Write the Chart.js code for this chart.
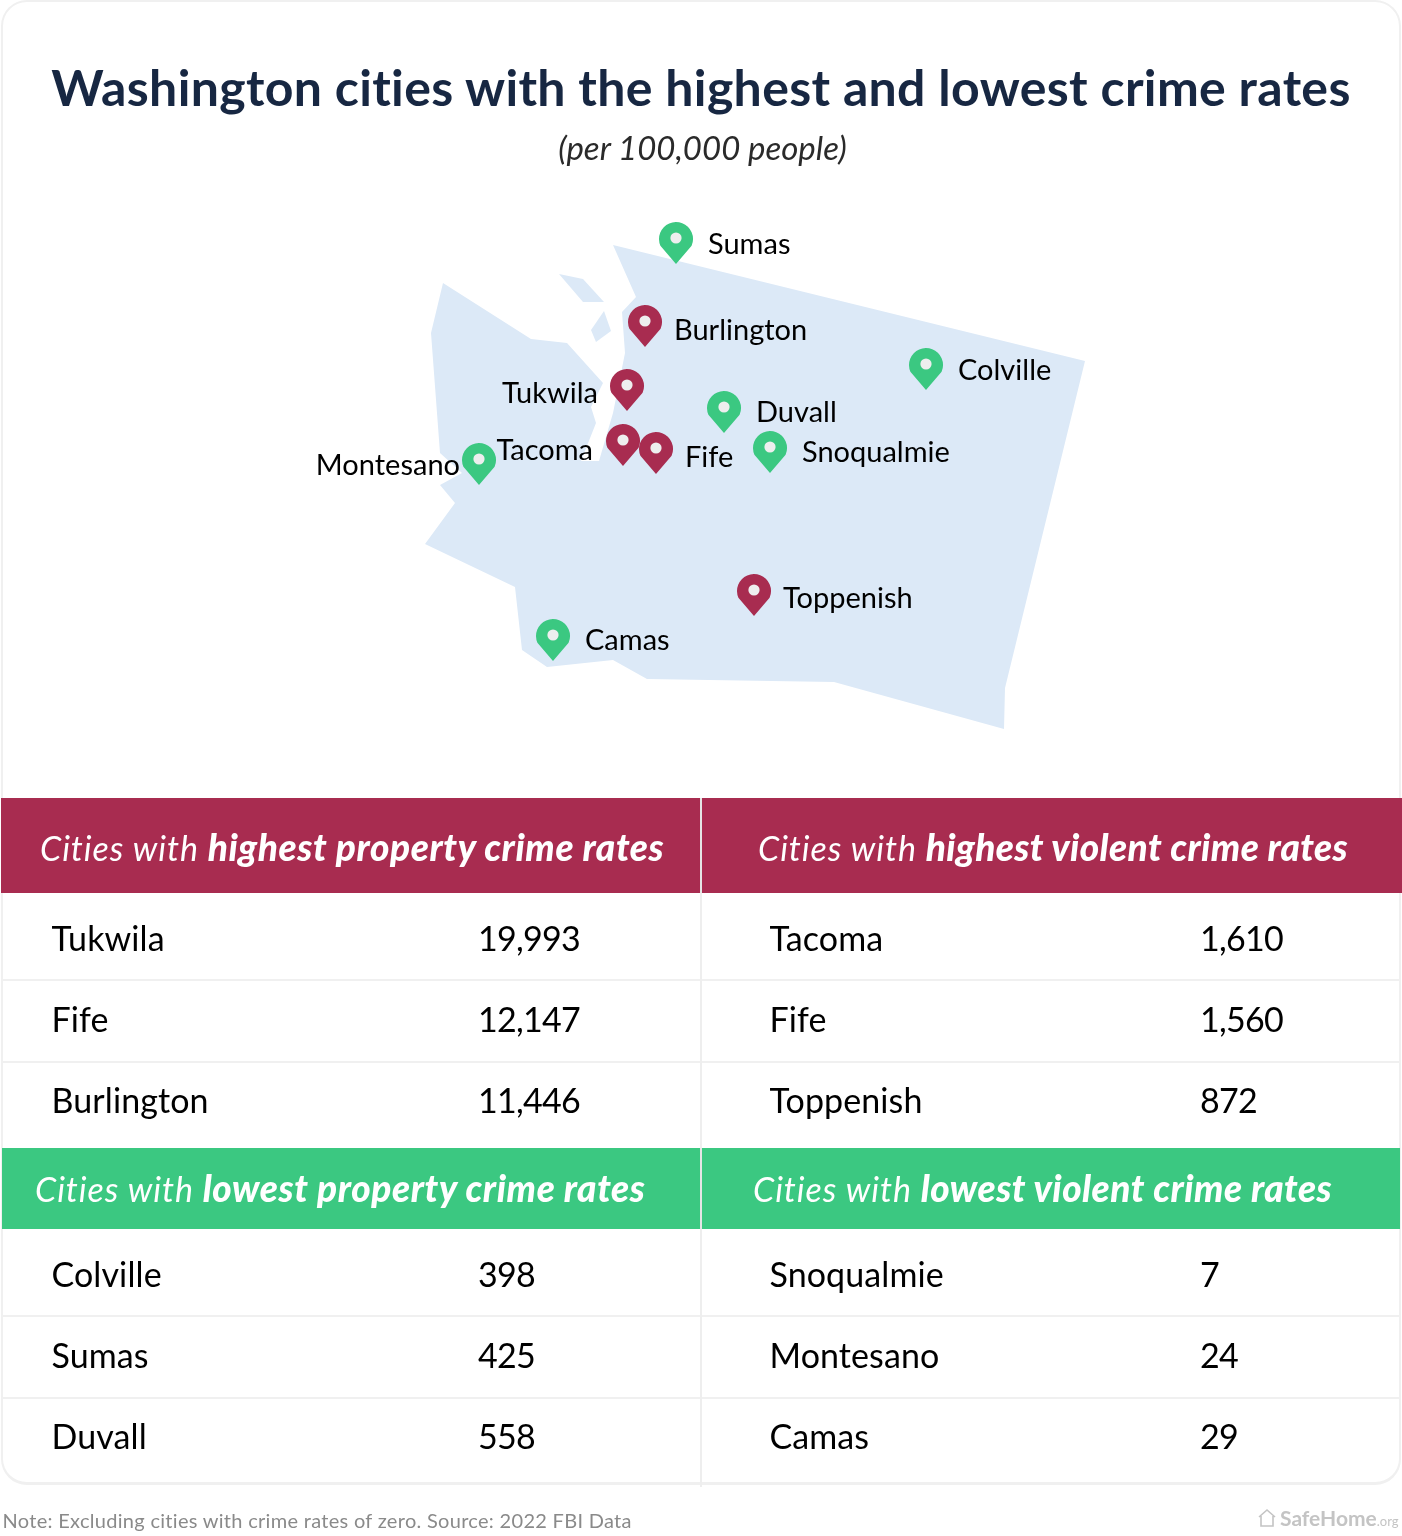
<!DOCTYPE html>
<html><head><meta charset="utf-8">
<script src="https://cdn.jsdelivr.net/npm/chart.js@4"></script>
<style>
html,body{margin:0;padding:0;background:#fff;}
#page{position:relative;width:1402px;height:1536px;overflow:hidden;font-family:Lato,sans-serif;color:#000;}
#page div.t{position:absolute;white-space:nowrap;line-height:1;}
.box{position:absolute;}
canvas{position:absolute;left:0;top:0;}
</style></head><body>
<div id="page"><canvas id="c" width="1402" height="1536"></canvas></div>
<script>
const title = "Washington cities with the highest and lowest crime rates";
const subtitle = "(per 100,000 people)";
const note = "Note: Excluding cities with crime rates of zero. Source: 2022 FBI Data";

const highPropertyCities = ["Tukwila","Fife","Burlington"];
const highPropertyRates  = ["19,993","12,147","11,446"];
const highViolentCities  = ["Tacoma","Fife","Toppenish"];
const highViolentRates   = ["1,610","1,560","872"];
const lowPropertyCities  = ["Colville","Sumas","Duvall"];
const lowPropertyRates   = ["398","425","558"];
const lowViolentCities   = ["Snoqualmie","Montesano","Camas"];
const lowViolentRates    = ["7","24","29"];

// map outline, in the chart's own units
const mainlandX = [613,1085,1005,1004,834,647,613,547,522,515,425,455,440,462,440,431,443,531,567,603,591,596,581,599,613,625,622,636,613];
const mainlandY = [245,361,688,729,682,679,660,667,650,587,544,503,485,473,453,333,283,339,343,383,407,423,461,461,413,353,312,297,245];
const islandAX = [559,583,604,583,559];
const islandAY = [274,279,302,302,274];
const islandBX = [604,611,596,591,604];
const islandBY = [311,331,342,330,311];

// pin tips
const redCities = ["Burlington","Tukwila","Tacoma","Fife","Toppenish"];
const redX = [645,627,623,656,754];
const redY = [347,411,466,474,616];
const greenCities = ["Sumas","Colville","Duvall","Snoqualmie","Montesano","Camas"];
const greenX = [676,926,724,770,479,553];
const greenY = [264,390,433,473,485,661];

const RED = "#a82c50", GREEN = "#3bc881", BLUE = "#dce9f7";

// label placement per city: [dx from pin tip, dy from pin tip, align]
const labelOffsets = {
  Sumas:[32,-19,"left"],Burlington:[29,-16,"left"],Colville:[32,-19,"left"],Duvall:[32,-20,"left"],
  Snoqualmie:[32,-20,"left"],Toppenish:[29,-17,"left"],Camas:[32,-20,"left"],Fife:[29,-16,"left"],
  Tukwila:[-29,-17,"right"],Tacoma:[-30,-15,"right"],Montesano:[-19,-19,"right"]
};

const page = document.getElementById("page");
function box(x,y,w,h,css){const d=document.createElement("div");d.className="box";
  d.style.cssText=`left:${x}px;top:${y}px;width:${w}px;height:${h}px;`+(css||"");page.appendChild(d);return d;}
function text(str,x,cy,size,css,html){const d=document.createElement("div");d.className="t";
  d.style.cssText=`left:${x}px;top:${cy-size/2}px;font-size:${size}px;`+(css||"");
  if(html)d.innerHTML=str;else d.textContent=str;page.appendChild(d);return d;}

// card outline
box(1,0,1400,1485,"border:2px solid #f0f0f0;border-radius:26px;box-sizing:border-box;border-width:2px 2px 3px 2px;");

// title block
text(title,0,87,50,"width:1402px;text-align:center;font-weight:700;color:#172742;letter-spacing:0.33px;");
text(subtitle,0,147,33,"width:1405px;text-align:center;font-style:italic;color:#2a2a2a;");

// table bands
box(1,798,1401,95,`background:${RED};`);
box(2,1148,1398,81,`background:${GREEN};`);
// separators
[979,1061,1315,1397].forEach(y=>box(3,y,1396,2,"background:#f0f0f0;"));
box(700,893,1.5,255,"background:#eeeeee;");
box(700,1229,1.5,258,"background:#eeeeee;");
box(700,798,2,95,"background:#e5e5e5;");
box(700,1148,2,81,"background:#e5e5e5;");

function header(x,cy,word1,word2,ls){
  text(`Cities with <b style="font-weight:900;font-size:37px;letter-spacing:${ls}px">${word1} ${word2} crime rates</b>`,x,cy,34,`color:#fff;font-style:italic;letter-spacing:0.9px;`,true);
}
header(40,845,"highest","property",0.6);
header(758,845,"highest","violent",0.4);
header(35,1186,"lowest","property",0.6);
header(753,1186,"lowest","violent",0.5);

function rows(cities,rates,xName,xRate,ys){
  cities.forEach((c,i)=>{
    text(c,xName,ys[i],34,"letter-spacing:0.1px;");
    text(rates[i],xRate,ys[i],34,"letter-spacing:-0.7px;");
  });
}
const upper=[938,1019,1100], lower=[1274,1355,1436];
rows(highPropertyCities,highPropertyRates,51.5,478,upper);
rows(highViolentCities,highViolentRates,769.5,1200,upper);
rows(lowPropertyCities,lowPropertyRates,51.5,478,lower);
rows(lowViolentCities,lowViolentRates,769.5,1200,lower);

// footer
text(note,2.5,1520,20,"color:#8a8a8a;letter-spacing:0.3px;");
text('SafeHome<span style="font-size:13px;font-weight:400">.org</span>',1280,1517,21,"color:#c4c4c4;font-weight:700;",true);
const logo=document.createElementNS("http://www.w3.org/2000/svg","svg");
logo.setAttribute("width","20");logo.setAttribute("height","20");logo.setAttribute("viewBox","0 0 20 20");
logo.style.cssText="position:absolute;left:1257px;top:1508px;";
logo.innerHTML='<path d="M2 9 L10 2 L18 9 M4 8 V18 H16 V8" fill="none" stroke="#c4c4c4" stroke-width="1.6"/>';
page.appendChild(logo);

function pinImage(color){
  // canvas is centred on the data point, so the pin's tip sits in its middle
  const w=36,h=88,c=document.createElement("canvas");c.width=w;c.height=h;
  const g=c.getContext("2d"),cx=w/2,tip=h/2,r=17,cy=tip-25;
  g.fillStyle=color;g.beginPath();
  g.arc(cx,cy,r,Math.PI*0.87,Math.PI*2.13,false);
  g.lineTo(cx,tip);
  g.closePath();g.fill();
  g.fillStyle="#eeeeee";g.beginPath();g.arc(cx,tip-26,5.6,0,Math.PI*2);g.fill();
  return c;
}
function pts(xs,ys){return xs.map((x,i)=>({x,y:ys[i]}));}
const shape=(xs,ys)=>({data:pts(xs,ys),showLine:true,fill:"shape",backgroundColor:BLUE,borderColor:BLUE,
  borderWidth:0,pointRadius:0,tension:0,order:5});

const cityLabels={id:"cityLabels",afterDatasetsDraw(chart){
  const {ctx,scales:{x,y}}=chart;ctx.save();
  ctx.font="29px Lato, sans-serif";ctx.fillStyle="#000";ctx.textBaseline="middle";
  [[redCities,redX,redY],[greenCities,greenX,greenY]].forEach(([names,xs,ys])=>{
    names.forEach((n,i)=>{const o=labelOffsets[n];ctx.textAlign=o[2];
      ctx.fillText(n,x.getPixelForValue(xs[i])+o[0],y.getPixelForValue(ys[i])+o[1]);});
  });
  ctx.restore();
}};

new Chart(document.getElementById("c"),{
  type:"scatter",
  data:{datasets:[
    shape(mainlandX,mainlandY),shape(islandAX,islandAY),shape(islandBX,islandBY),
    {label:"Highest",data:pts(redX,redY),pointStyle:pinImage(RED),order:1,clip:false},
    {label:"Lowest",data:pts(greenX,greenY),pointStyle:pinImage(GREEN),order:2,clip:false}
  ]},
  options:{responsive:false,animation:false,devicePixelRatio:1,
    layout:{padding:0,autoPadding:false},
    events:[],
    plugins:{legend:{display:false},tooltip:{enabled:false},title:{display:false}},
    scales:{
      x:{type:"linear",min:0,max:1402,display:false},
      y:{type:"linear",min:0,max:1536,reverse:true,display:false}
    }},
  plugins:[cityLabels]
});
</script>
</body></html>
